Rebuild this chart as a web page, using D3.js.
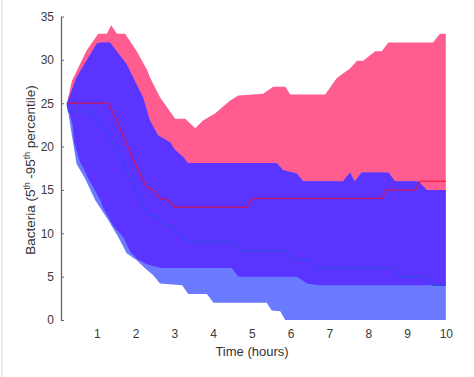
<!DOCTYPE html>
<html>
<head>
<meta charset="utf-8">
<script src="https://cdn.jsdelivr.net/npm/d3@7"></script>
<style>
  body { margin: 0; background: #fff; }
  svg { display: block; font-family: "Liberation Sans", Arial, sans-serif; }
</style>
</head>
<body>
<svg id="chart" width="474" height="377"></svg>
<script>
// band of the first group (pink)
var pinkUpperT = [0.23, 0.36, 0.74, 1.04, 1.26, 1.37, 1.52, 1.73, 2.03, 2.3, 2.37, 2.63, 3.02, 3.28, 3.54, 3.74, 4.05, 4.44, 4.65, 5.29, 5.55, 5.86, 5.99, 6.89, 7.19, 7.53, 7.71, 7.87, 8.18, 8.35, 8.52, 9.67, 9.85, 10]
var pinkUpperV = [25, 27.6, 31.1, 33, 33, 34, 33, 33, 31, 28.8, 28, 25.7, 23.2, 23.2, 22.1, 23, 23.8, 25.3, 25.9, 26.1, 26.9, 26.9, 26, 26, 27.9, 29, 29.9, 29.9, 31, 31, 32, 32, 33, 33]
var pinkLowerT = [0.23, 0.38, 0.42, 0.57, 0.65, 0.78, 0.91, 1.09, 1.17, 1.43, 1.69, 1.86, 2.05, 2.3, 2.65, 4.48, 4.65, 6.16, 6.42, 6.71, 10]
var pinkLowerV = [25, 22.4, 20.5, 18.2, 17.6, 16.3, 15.3, 13.8, 12.9, 10.8, 9.5, 7.9, 7, 6.4, 6, 6, 5, 5, 4.2, 4, 4]
var pinkMedT = [0.23, 1.3, 1.52, 1.77, 2.03, 2.29, 2.46, 2.63, 2.81, 3.02, 4.87, 5.0, 8.35, 8.48, 9.21, 9.34, 10]
var pinkMedV = [25, 25, 23, 20.3, 17.6, 15.3, 15, 14, 13.9, 13, 13, 14, 14, 15, 15, 16, 16]

// band of the second group (blue)
var blueUpperT = [0.23, 0.48, 1.0, 1.09, 1.34, 1.77, 2.19, 2.37, 2.58, 2.89, 3.02, 3.23, 3.35, 5.64, 5.8, 6.16, 6.32, 7.35, 7.53, 7.65, 7.83, 8.52, 8.69, 9.29, 9.51, 10]
var blueUpperV = [25, 28, 31.9, 32, 32, 29.5, 25.7, 23, 21.3, 20.5, 19.6, 18.8, 18.1, 18.1, 17.3, 16.9, 16, 16, 17, 16, 17, 17, 16, 16, 15, 15]
var blueLowerT = [0.23, 0.35, 0.48, 0.7, 0.96, 1.3, 1.6, 1.77, 2.03, 2.25, 2.45, 2.63, 3.2, 3.36, 3.84, 4.01, 5.38, 5.51, 5.73, 5.86, 10]
var blueLowerV = [25, 21.5, 18, 16.3, 13.8, 11.5, 9.2, 7.7, 6.9, 5.95, 5.2, 4.2, 4, 3, 3, 2, 2, 1.1, 1, 0, 0]
var blueMedT = [0.23, 0.27, 0.87, 1.17, 1.43, 1.65, 1.9, 2.12, 2.33, 2.55, 2.72, 2.89, 3.1, 3.41, 4.48, 4.7, 5.86, 6.07, 6.5, 6.67, 8.65, 8.82, 9.51, 9.68, 10]
var blueMedV = [25, 24, 24, 22.3, 20.3, 18.4, 16.1, 13.8, 12, 12, 11, 11, 10, 9, 9, 8, 8, 7, 7, 6, 6, 5, 5, 4, 4]

var xTicks = [1, 2, 3, 4, 5, 6, 7, 8, 9, 10]
var yTicks = [0, 5, 10, 15, 20, 25, 30, 35]

var svg = d3.select('#chart')

var x = d3.scaleLinear().domain([0, 10]).range([58, 445.8])
var y = d3.scaleLinear().domain([0, 35]).range([320, 16.5])

function pts(ts, vs) {
    return ts.map((t, i) => [x(t), y(vs[i])])
}
function band(ut, uv, lt, lv) {
    return pts(ut, uv).concat(pts(lt, lv).reverse())
}

var line = d3.line()
var polygon = d3.line().curve(d3.curveLinearClosed)

var pinkBand = band(pinkUpperT, pinkUpperV, pinkLowerT, pinkLowerV)
var blueBand = band(blueUpperT, blueUpperV, blueLowerT, blueLowerV)

// faint frame line on the far left of the picture
svg.append('line')
    .attr('x1', 2).attr('x2', 2).attr('y1', 0).attr('y2', 377)
    .attr('stroke', '#e6e6e6').attr('stroke-width', 1.5)

svg.append('clipPath').attr('id', 'pinkClip')
    .append('path').attr('d', polygon(pinkBand))

svg.append('path')
    .attr('d', polygon(pinkBand))
    .attr('fill', '#ff5c8f')

// blue band: light where it is alone, dark where it covers the pink band
svg.append('path')
    .attr('d', polygon(blueBand))
    .attr('fill', '#6b7bff')
svg.append('path')
    .attr('d', polygon(blueBand))
    .attr('fill', '#5b34ff')
    .attr('clip-path', 'url(#pinkClip)')

svg.append('path')
    .attr('d', line(pts(pinkMedT, pinkMedV)))
    .attr('fill', 'none')
    .attr('stroke', '#ee0a30')
    .attr('stroke-opacity', 0.65)
    .attr('stroke-width', 1.5)

svg.append('path')
    .attr('d', line(pts(blueMedT, blueMedV)))
    .attr('fill', 'none')
    .attr('stroke', '#3448e4')
    .attr('stroke-width', 1.2)

// y axis with inward ticks
var yAxis = svg.append('g')
    .attr('transform', 'translate(61,0)')
    .call(d3.axisLeft(y).tickValues(yTicks).tickSizeInner(-3).tickSizeOuter(0).tickPadding(7))
yAxis.select('.domain').attr('stroke', '#666').attr('stroke-width', 1.3)
yAxis.selectAll('.tick line').attr('stroke', '#666')
yAxis.selectAll('text').attr('fill', '#3a3a3a').attr('font-size', 12).attr('font-family', null)

// x axis: labels only
var xAxis = svg.append('g')
    .attr('transform', 'translate(0,320)')
    .call(d3.axisBottom(x).tickValues(xTicks).tickSize(0).tickPadding(9))
xAxis.select('.domain').remove()
xAxis.selectAll('text').attr('fill', '#3a3a3a').attr('font-size', 12).attr('font-family', null)

svg.append('text')
    .attr('x', 252).attr('y', 356)
    .attr('text-anchor', 'middle')
    .attr('font-size', 13)
    .attr('fill', '#333')
    .text('Time (hours)')

var yl = svg.append('text')
    .attr('transform', 'translate(35,170) rotate(-90)')
    .attr('text-anchor', 'middle')
    .attr('font-size', 13.5)
    .attr('fill', '#333')
yl.append('tspan').text('Bacteria (5')
yl.append('tspan').attr('font-size', 8.5).attr('dy', -5).text('th')
yl.append('tspan').attr('dy', 5).text(' -95')
yl.append('tspan').attr('font-size', 8.5).attr('dy', -5).text('th')
yl.append('tspan').attr('dy', 5).text(' percentile)')
</script>
</body>
</html>
